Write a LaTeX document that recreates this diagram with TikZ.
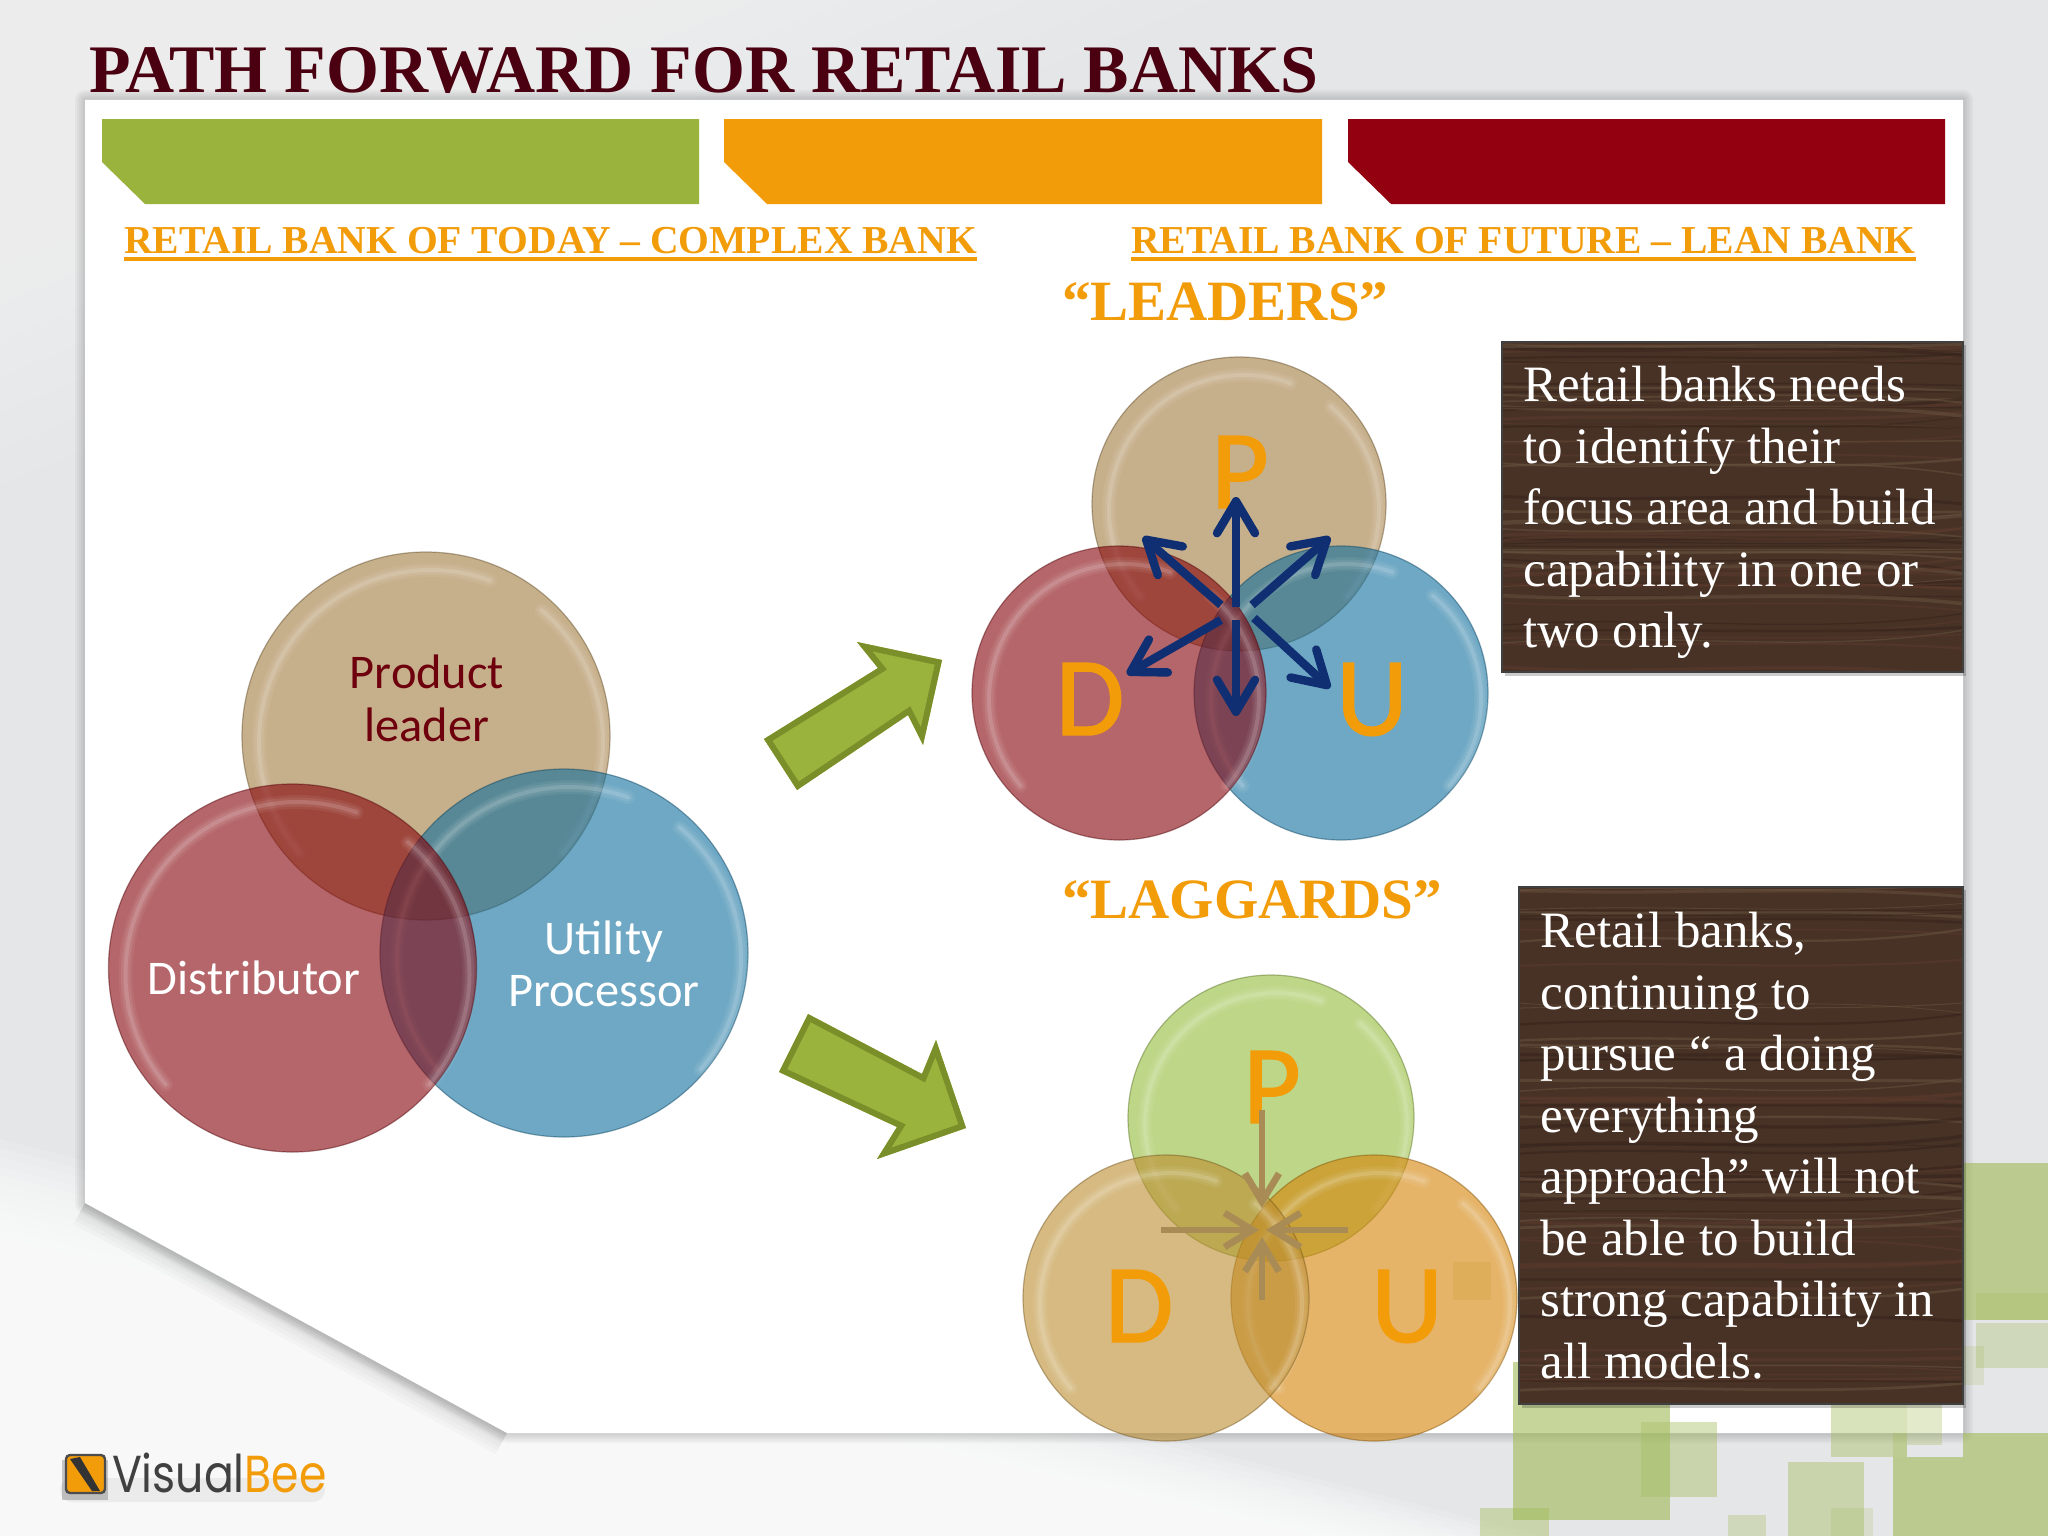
\documentclass[tikz,border=0pt]{standalone}
\usepackage{fontspec}
\setmainfont{Liberation Serif}
\newfontfamily\lab{Carlito}
\newfontfamily\labb[FakeBold=1.2]{Carlito}
\newfontfamily\logofont{Poppins}
\usetikzlibrary{arrows.meta,calc}
\definecolor{bgc}{HTML}{E5E6E8}
\definecolor{maroon}{HTML}{4A0010}
\definecolor{org}{HTML}{F39C0A}
\definecolor{grn}{HTML}{99B33D}
\definecolor{grnd}{HTML}{7A8F2A}
\definecolor{redb}{HTML}{93000F}
\definecolor{navy2}{HTML}{0F2F72}
\definecolor{brwn}{HTML}{A98C55}
\definecolor{sq}{RGB}{160,186,85}
\definecolor{ctan}{RGB}{160,123,63}
\definecolor{cred}{RGB}{132,0,8}
\definecolor{cblu}{RGB}{15,110,157}
\definecolor{cgrn}{RGB}{147,188,55}
\definecolor{ctn2}{RGB}{187,140,47}
\definecolor{corg}{RGB}{213,130,5}
\definecolor{wood}{HTML}{483226}
\definecolor{grain0}{HTML}{67533F}
\definecolor{grain1}{HTML}{35231A}
\definecolor{grain2}{HTML}{5C3A2C}
\tikzset{
  txt/.style={anchor=base west,inner sep=0pt,outer sep=0pt},
  ctr/.style={anchor=base,inner sep=0pt,outer sep=0pt},
  subhead/.style={txt,font=\fontsize{19.8}{20}\selectfont\bfseries,text=org},
  bighead/.style={txt,font=\fontsize{28.5}{30}\selectfont\bfseries,text=org},
  letter/.style={ctr,font=\labb\fontsize{56}{60}\selectfont,text=org},
  vlabel/.style={ctr,font=\lab\fontsize{24.2}{26}\selectfont},
  woodtext/.style={anchor=north west,inner sep=0pt,align=left,text=white,font=\fontsize{25.5}{30.75}\selectfont},
  navyarrow/.style={navy2,line width=4.2pt,-{Straight Barb[length=16pt,width=19pt,line width=4.2pt,round]}},
  brownarrow/.style={brwn,line width=3.4pt,-{Straight Barb[length=14pt,width=17pt,line width=3.4pt]}},
  sqa/.style={fill=sq,fill opacity=.6},
  sqb/.style={fill=sq,fill opacity=.4},
  glint/.style={white,line cap=round},
}
\newcommand\venn[5]{% name, cx, cy, r, colour
  \node[circle,inner sep=0pt,minimum size=#4pt,fill=#5,fill opacity=.6,draw=#5!60!black,draw opacity=.45,line width=.6pt] (#1) at (#2,#3) {};
  \foreach \wid/\opa in {7/.06,4.5/.08,2/.14}{
    \draw[glint,opacity=\opa,line width=\wid pt] ({#2+5+(#4-12)*cos(140)},{#3+6+(#4-12)*sin(140)}) arc[start angle=140,end angle=290,radius=#4-12];
    \draw[glint,opacity=\opa,line width=\wid pt] ({#2+5+(#4-12)*cos(310)},{#3+6+(#4-12)*sin(310)}) arc[start angle=310,end angle=400,radius=#4-12];
  }
}
\newcommand\blockarrow[1]{%
  \fill[grn] #1;
  \begin{scope}\clip #1; \draw[grnd,line width=6pt,line join=miter] #1; \end{scope}
}
\newcommand\woodbox[4]{%
  \fill[black,opacity=.2] (#1+3,#2+3) rectangle (#3+3,#4+4);
  \begin{scope}
    \clip (#1,#2) rectangle (#3,#4);
    \fill[wood] (#1,#2) rectangle (#3,#4);
    \foreach \k in {1,...,60}{
      \pgfmathsetmacro\yy{#2+rnd*(#4-#2)}
      \pgfmathsetmacro\dy{(rnd-.5)*26}
      \pgfmathtruncatemacro\gc{mod(\k,3)}
      \pgfmathsetmacro\lw{.4+rnd*1.4}
      \draw[grain\gc,line width=\lw pt,opacity=.55] (#1,\yy) .. controls (#1+150,\yy+\dy) and (#3-150,\yy-\dy) .. (#3,\yy+\dy);
    }
  \end{scope}
  \draw[black!75,line width=.8pt] (#1,#2) rectangle (#3,#4);
}
\begin{document}
\begin{tikzpicture}[x=.5pt,y=-.5pt]
\useasboundingbox (0,0) rectangle (2048,1536);
% background
\fill[bgc] (0,0) rectangle (2048,1536);
\foreach \i in {1,...,10}{
  \fill[white,opacity=.05] (0,0) -- (1300-90*\i,0) -- (0,520-36*\i) -- cycle;
}
\foreach \i in {1,...,30}{
  \fill[white,opacity=.14] (0,1130+9*\i) -- (1560-20*\i,1536) -- (0,1536) -- cycle;
}
% panel shadow
\def\panel{(85,100) -- (1963,100) -- (1963,1433) -- (507,1433) -- (85,1203) -- cycle}
\foreach \w in {2,4,...,10}{
  \draw[black,opacity=.03,line width=\w pt,line join=round] \panel;
}
\foreach \w in {4,8,...,24}{
  \draw[black,opacity=.02,line width=\w pt] (85,1203) -- (507,1433);
}
\fill[white] \panel;
% translucent squares
\fill[sqa] (1963,1163) rectangle (2048,1320);
\fill[sqa,fill opacity=.25] (1976,1293) rectangle (2048,1320);
\fill[sqb,fill opacity=.3] (1976,1323) rectangle (2048,1368);
\fill[sqb,fill opacity=.2] (1963,1346) rectangle (1984,1385);
\fill[sqa] (1513,1362) rectangle (1670,1520);
\fill[sqa,fill opacity=.3] (1641,1422) rectangle (1670,1497);
\fill[sqb] (1670,1422) rectangle (1717,1497);
\fill[sqb] (1831,1405) rectangle (1907,1457);
\fill[sqb,fill opacity=.3] (1907,1405) rectangle (1942,1445);
\fill[sqb,fill opacity=.3] (1893,1433) rectangle (1907,1457);
\fill[sqa] (1893,1457) rectangle (2048,1536);
\fill[sqa] (1963,1433) rectangle (2048,1457);
\fill[sqb] (1788,1462) rectangle (1864,1536);
\fill[sqb,fill opacity=.2] (1831,1508) rectangle (1873,1536);
\fill[sqb,fill opacity=.3] (1728,1515) rectangle (1766,1536);
\fill[sqb] (1480,1508) rectangle (1549,1536);
\fill[sqb,fill opacity=.2] (1453,1262) rectangle (1491,1300);
% title
\node[txt,font=\fontsize{34}{36}\selectfont\bfseries,text=maroon] (title) at (89,93) {PATH FORWARD FOR RETAIL BANKS};
% banners
\fill[grn] (102,119) -- (699,119) -- (699,204) -- (145,204) -- (102,162) -- cycle;
\fill[org] (724,119) -- (1322,119) -- (1322,204) -- (767,204) -- (724,162) -- cycle;
\fill[redb] (1348,119) -- (1945,119) -- (1945,204) -- (1391,204) -- (1348,162) -- cycle;
% subheads
\node[subhead] (s1) at (124,253) {RETAIL BANK OF TODAY – COMPLEX BANK};
\node[subhead] (s2) at (1131,253) {RETAIL BANK OF FUTURE – LEAN BANK};
\draw[org,line width=2pt] ([yshift=-3pt]s1.south west) -- ([yshift=-3pt]s1.south east);
\draw[org,line width=2pt] ([yshift=-3pt]s2.south west) -- ([yshift=-3pt]s2.south east);
\node[bighead] (lead) at (1062,320) {“LEADERS”};
\node[bighead] (lag) at (1062,918) {“LAGGARDS”};
% left venn
\venn{lp}{426}{736}{184}{ctan}
\venn{lu}{564}{953}{184}{cblu}
\venn{ld}{292.5}{968}{184}{cred}
\node[vlabel,text=maroon!80!red] (t1) at (427,688) {Product};
\node[vlabel,text=maroon!80!red] (t2) at (427,741) {leader};
\node[vlabel,text=white] (t3) at (254,994) {Distributor};
\node[vlabel,text=white] (t4) at (604,954) {Utility};
\node[vlabel,text=white] (t5) at (604,1006) {Processor};
% block arrows
\blockarrow{(764,739) -- (797,790) -- (908,715) -- (923,745) -- (942,660) -- (857,642) -- (878,668) -- cycle}
\blockarrow{(808,1014) -- (922,1074) -- (936,1040) -- (966,1128) -- (877,1159) -- (897,1127) -- (779,1072) -- cycle}
% leaders venn
\venn{ap}{1239}{504}{147}{ctan}
\venn{au}{1341}{693}{147}{cblu}
\venn{ad}{1119}{693}{147}{cred}
\node[letter] (pa) at (1240,508) {P};
\node[letter] (da) at (1090,735) {D};
\node[letter] (ua) at (1372,735) {U};
\coordinate (a0) at (1236,607); \coordinate (a1) at (1236,497);
\coordinate (b0) at (1221,605); \coordinate (b1) at (1143,537);
\coordinate (c0) at (1252,605); \coordinate (c1) at (1330,537);
\coordinate (d0) at (1254,618); \coordinate (d1) at (1330,688);
\coordinate (e0) at (1236,620); \coordinate (e1) at (1236,716);
\coordinate (f0) at (1221,620); \coordinate (f1) at (1127,674);
\foreach \s/\e in {a0/a1,b0/b1,c0/c1,d0/d1,e0/e1,f0/f1}{\draw[navyarrow] (\s) -- (\e);}
% laggards venn
\venn{gp}{1271}{1118}{143}{cgrn}
\venn{gu}{1374}{1298}{143}{corg}
\venn{gd}{1166}{1298}{143}{ctn2}
\node[letter] (pg) at (1272,1123) {P};
\node[letter] (dg) at (1139,1342) {D};
\node[letter] (ug) at (1407,1342) {U};
\coordinate (h0) at (1262,1110); \coordinate (h1) at (1262,1208);
\coordinate (i0) at (1161,1230); \coordinate (i1) at (1259,1230);
\coordinate (j0) at (1348,1230); \coordinate (j1) at (1266,1230);
\coordinate (k0) at (1262,1300); \coordinate (k1) at (1262,1237);
\foreach \s/\e in {h0/h1,i0/i1,j0/j1,k0/k1}{\draw[brownarrow] (\s) -- (\e);}
% wood boxes
\pgfmathsetseed{11}
\woodbox{1502}{342}{1963}{672}
\woodbox{1519}{887}{1963}{1404}
\node[woodtext] (w1) at (1523,366) {Retail banks needs\\to identify their\\focus area and build\\capability in one or\\two only.};
\node[woodtext] (w2) at (1540,912) {Retail banks,\\continuing to\\pursue “ a doing\\everything\\approach” will not\\be able to build\\strong capability in\\all models.};
% logo
\fill[black,opacity=.05,rounded corners=6pt] (60,1478) rectangle (325,1502);
\fill[black,opacity=.2] (62,1460) rectangle (108,1500);
\fill[org,draw=black!70,line width=1.2pt,rounded corners=2pt] (66,1455) rectangle (105,1493);
\fill[black!80] (70,1459) -- (80,1457) -- (100,1491) -- (92,1491) -- cycle;
\node[txt,font=\logofont\fontsize{26}{28}\selectfont,text=black!75] (lg1) at (112,1492) {\scalebox{.85}[1]{Visual}};
\node[txt,font=\logofont\fontsize{26}{28}\selectfont,text=org] (lg2) at (lg1.base east) {\scalebox{.85}[1]{Bee}};
\end{tikzpicture}
\end{document}
